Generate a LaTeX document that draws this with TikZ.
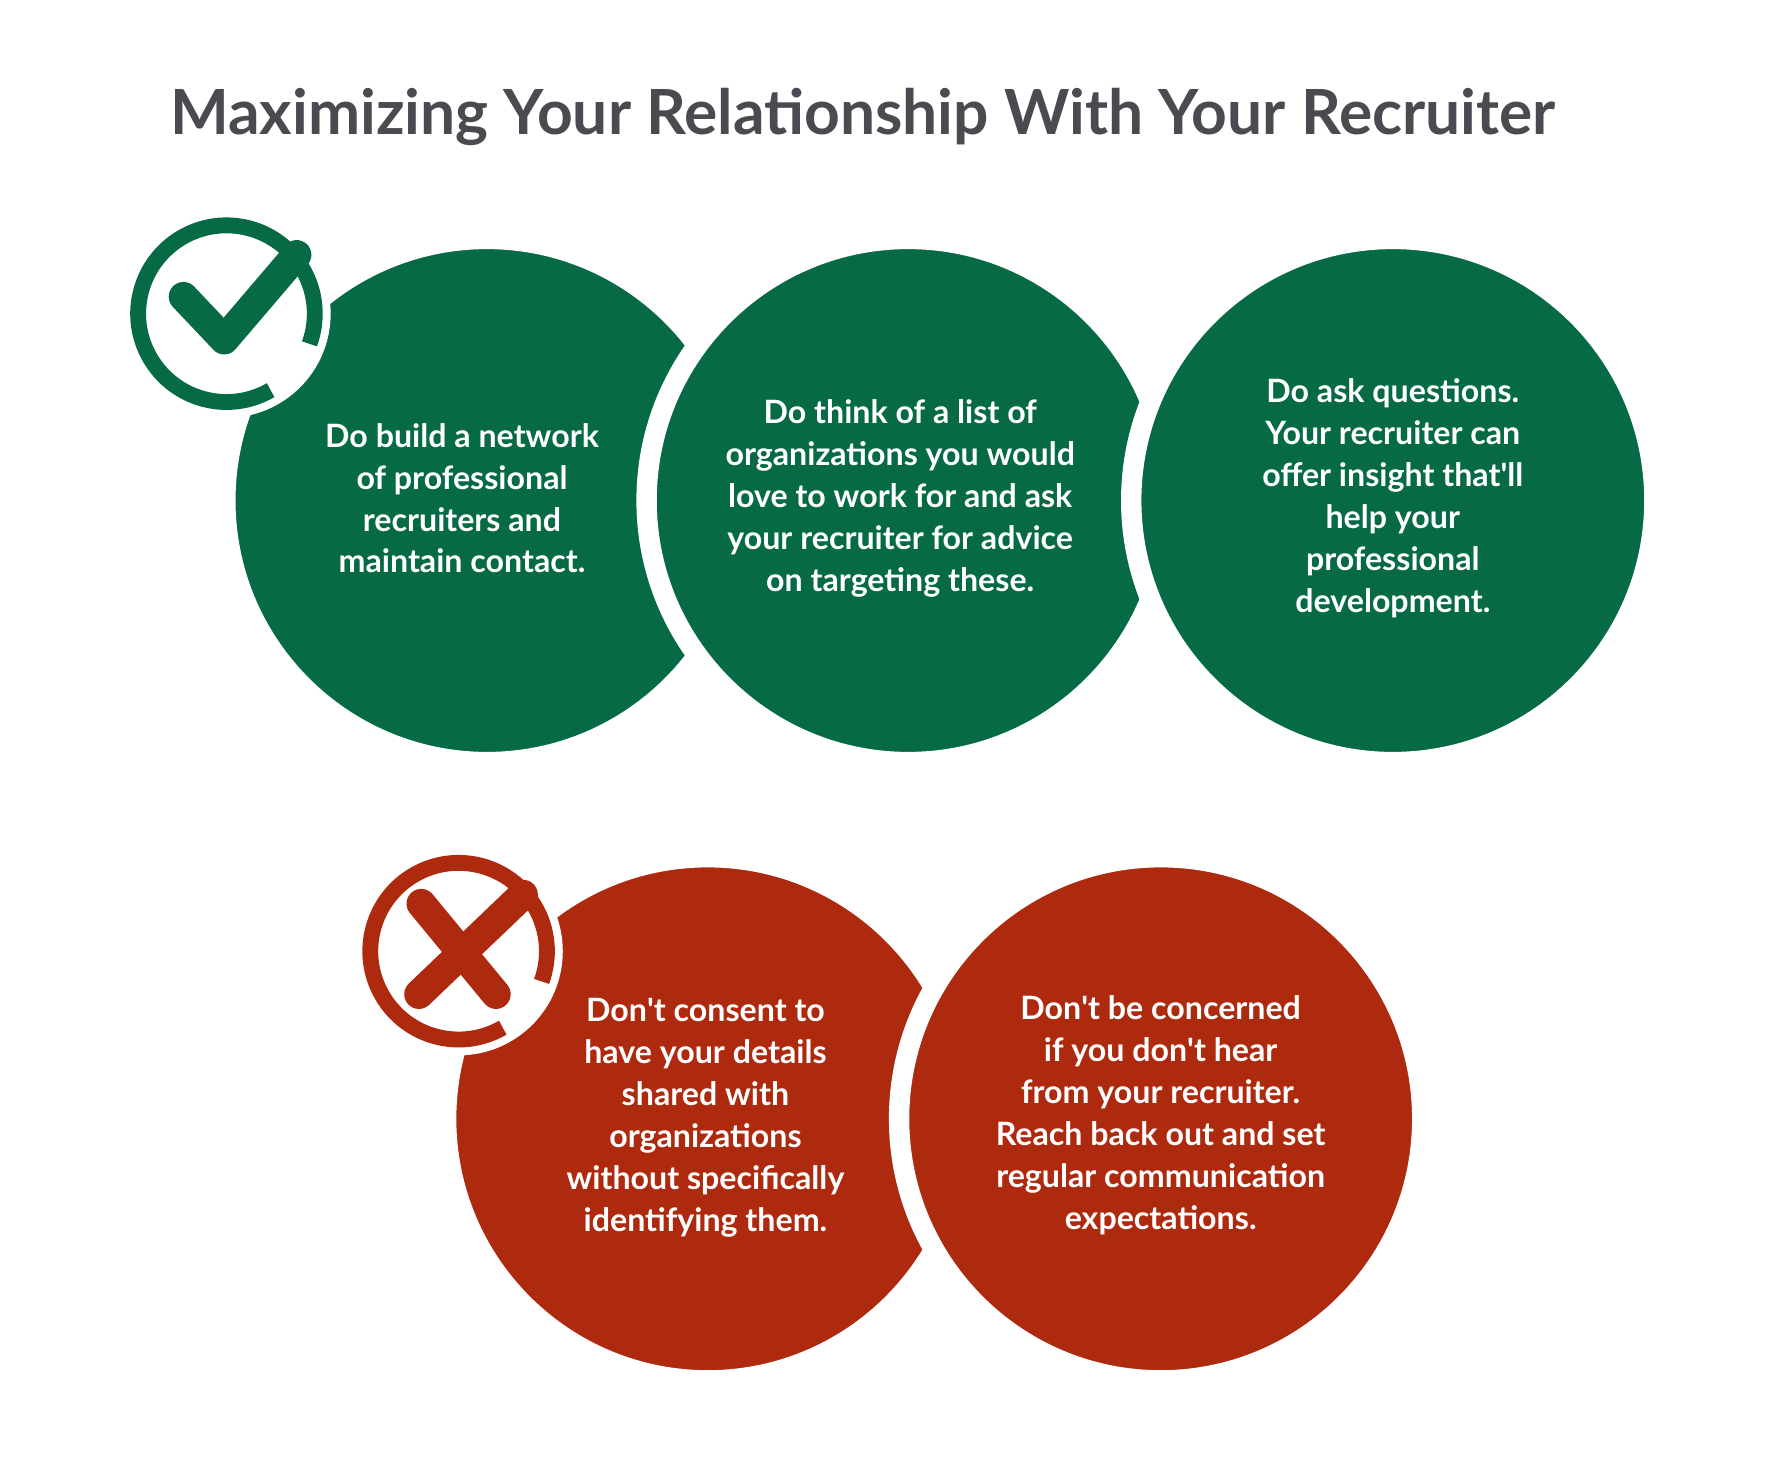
\documentclass[tikz,border=0pt]{standalone}
\usepackage{fontspec}
\setmainfont{Lato}
\definecolor{dgreen}{HTML}{066B45}
\definecolor{dred}{HTML}{AE2A0E}
\definecolor{titlegray}{HTML}{4A4A50}
\newcommand{\ap}{\textquotesingle}
\begin{document}
\begin{tikzpicture}[x=0.5pt,y=-0.5pt,
  bub/.style={circle,minimum size=462*0.5pt,inner sep=0pt,draw=white,line width=9pt},
  txt/.style={text=white,font=\bfseries\fontsize{14.2}{18.5}\selectfont,align=center},
  ring/.style={line width=7pt},
  stroke/.style={line width=13pt,line cap=round,line join=round}]
\useasboundingbox (0,0) rectangle (1564,1287);
\fill[white] (0,0) rectangle (1564,1287);
\node[text=titlegray,font=\bfseries\fontsize{27.5}{32}\selectfont] (title) at (762,103) {Maximizing Your Relationship With Your Recruiter};
% green
\node[bub,fill=dgreen] (g1) at (430,442) {};
\node[bub,fill=dgreen] (g2) at (802,442) {};
\node[bub,fill=dgreen] (g3) at (1230,442) {};
\node[txt] (t1) at (408,440) {Do build a network\\of professional\\recruiters and\\maintain contact.};
\node[txt] (t2) at (795,440) {Do think of a list of\\organizations you would\\love to work for and ask\\your recruiter for advice\\on targeting these.};
\node[txt] (t3) at (1230,440) {Do ask questions.\\Your recruiter can\\offer insight that\ap ll\\help your\\professional\\development.};
% check icon
\node[circle,fill=white,minimum size=184*0.5pt,inner sep=0pt] (ci) at (200,277) {};
\draw[ring,dgreen] (ci.center) ++(60:78) arc[start angle=60,end angle=380,radius=78];
\draw[stroke,dgreen] (162,262) -- (198,300) -- (262,225);
% red
\node[bub,fill=dred] (r1) at (625,988) {};
\node[bub,fill=dred] (r2) at (1025,988) {};
\node[txt] (t4) at (623,987) {Don\ap t consent to\\have your details\\shared with\\organizations\\without specifically\\identifying them.};
\node[txt] (t5) at (1025,985) {Don\ap t be concerned\\if you don\ap t hear\\from your recruiter.\\Reach back out and set\\regular communication\\expectations.};
% x icon
\node[circle,fill=white,minimum size=184*0.5pt,inner sep=0pt] (xi) at (405,840) {};
\draw[ring,dred] (xi.center) ++(60:78) arc[start angle=60,end angle=380,radius=78];
\draw[stroke,dred] (372,798) -- (438,878);
\draw[stroke,dred] (462,790) -- (370,878);
\end{tikzpicture}
\end{document}
